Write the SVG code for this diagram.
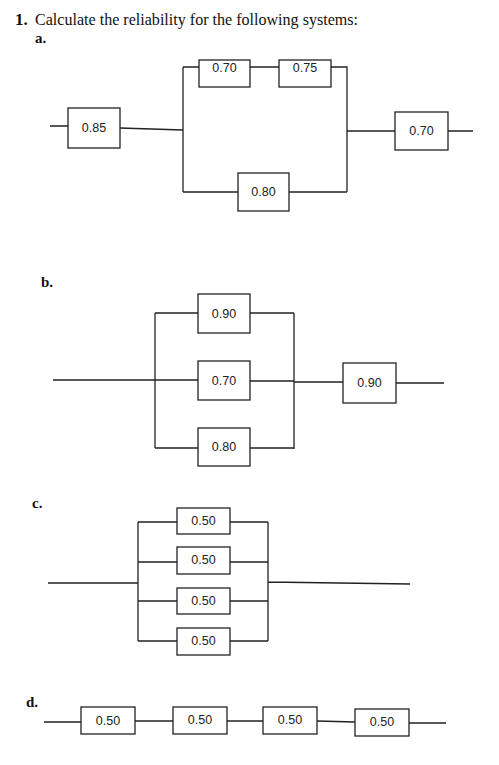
<svg xmlns="http://www.w3.org/2000/svg" width="499" height="765" viewBox="0 0 499 765">
<style>
.bx{fill:#fff;stroke:#222;stroke-width:1.3}
.ln{fill:none;stroke:#222;stroke-width:1.3}
.lb{font-family:"Liberation Sans",Arial,sans-serif;font-size:12.5px;fill:#222;text-anchor:middle;dominant-baseline:central}
.hd{font-family:"Liberation Serif","Times New Roman",serif;font-size:17px;fill:#111}
.sec{font-family:"Liberation Serif","Times New Roman",serif;font-size:15px;font-weight:bold;fill:#111}
</style>
<rect width="499" height="765" fill="#fff"/>
<text class="hd" x="15" y="25" font-weight="bold">1.</text>
<text class="hd" x="35" y="25" textLength="323" lengthAdjust="spacingAndGlyphs">Calculate the reliability for the following systems:</text>
<text class="sec" x="35" y="43">a.</text>
<text class="sec" x="41" y="287">b.</text>
<text class="sec" x="32" y="508">c.</text>
<text class="sec" x="26" y="707">d.</text>

<g id="connectors">
<!-- a -->
<path class="ln" d="M50 126 H68 M120 128 L183 130 M183 67 V192 M183 67 H199 M250 67 H279 M331 67 H347 V192 M183 192 H238 M289 192 H347 M347 131 H395 M448 131 H473"/>
<!-- b -->
<path class="ln" d="M53 380 H198 M155 313 V448 M155 313 H198 M155 448 H198 M250 313 H294 M250 381 H294 M250 448 H294 M294 313 V449 M294 382 H343 M396 383 H444"/>
<!-- c -->
<path class="ln" d="M48 583 H138 M138 522 V641 M138 522 H177 M138 562 H177 M138 601 H177 M138 641 H177 M230 522 H268 M230 562 H268 M230 601 H268 M230 641 H268 M268 522 V641 M268 582 L410 584"/>
<!-- d -->
<path class="ln" d="M44 722 H81 M135 721 H173 M227 721 H263 M317 721 L355 722 M409 723 H446"/>
</g>

<g id="a1"><rect class="bx" x="68" y="108" width="52" height="40"/><text class="lb" x="94" y="128">0.85</text></g>
<g id="a2"><rect class="bx" x="199" y="60" width="51" height="27"/><text class="lb" x="224.5" y="68">0.70</text></g>
<g id="a3"><rect class="bx" x="279" y="60" width="52" height="27"/><text class="lb" x="305" y="68">0.75</text></g>
<g id="a4"><rect class="bx" x="238" y="173" width="51" height="38"/><text class="lb" x="263.5" y="192">0.80</text></g>
<g id="a5"><rect class="bx" x="395" y="112" width="53" height="38"/><text class="lb" x="421.5" y="131">0.70</text></g>

<g id="b1"><rect class="bx" x="198" y="294" width="52" height="39"/><text class="lb" x="224" y="314">0.90</text></g>
<g id="b2"><rect class="bx" x="198" y="361" width="52" height="39"/><text class="lb" x="224" y="381">0.70</text></g>
<g id="b3"><rect class="bx" x="198" y="428" width="52" height="38"/><text class="lb" x="224" y="447">0.80</text></g>
<g id="b4"><rect class="bx" x="343" y="363" width="53" height="40"/><text class="lb" x="369.5" y="383">0.90</text></g>

<g id="c1"><rect class="bx" x="177" y="508" width="53" height="26"/><text class="lb" x="203.5" y="521">0.50</text></g>
<g id="c2"><rect class="bx" x="177" y="547" width="53" height="27"/><text class="lb" x="203.5" y="560">0.50</text></g>
<g id="c3"><rect class="bx" x="177" y="588" width="53" height="26"/><text class="lb" x="203.5" y="601">0.50</text></g>
<g id="c4"><rect class="bx" x="177" y="628" width="53" height="27"/><text class="lb" x="203.5" y="641">0.50</text></g>

<g id="d1"><rect class="bx" x="81" y="707" width="54" height="27"/><text class="lb" x="108" y="721">0.50</text></g>
<g id="d2"><rect class="bx" x="173" y="707" width="54" height="27"/><text class="lb" x="200" y="720">0.50</text></g>
<g id="d3"><rect class="bx" x="263" y="707" width="54" height="27"/><text class="lb" x="290" y="720">0.50</text></g>
<g id="d4"><rect class="bx" x="355" y="709" width="54" height="27"/><text class="lb" x="382" y="722">0.50</text></g>
</svg>
